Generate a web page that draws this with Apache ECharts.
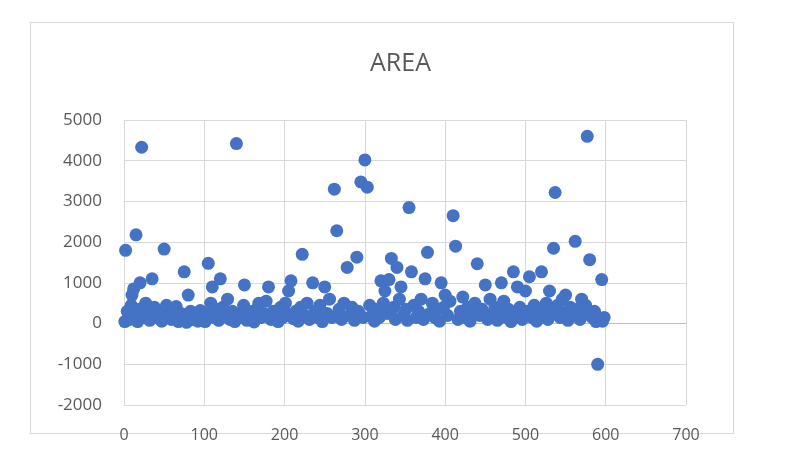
<!DOCTYPE html>
<html><head><meta charset="utf-8">
<script src="https://cdn.jsdelivr.net/npm/echarts@6/dist/echarts.min.js"></script>
<style>html,body{margin:0;padding:0;background:#fff}#c{width:801px;height:449px}
#b{position:absolute;left:30px;top:22px;width:704px;height:412px;border:1px solid #d9d9d9;box-sizing:border-box}</style>
</head><body><div id="b"></div><div id="c"></div>
<script>
const title = "AREA";
const xTicks = [0,100,200,300,400,500,600,700];
const yTicks = [-2000,-1000,0,1000,2000,3000,4000,5000];
const highPoints = [[2,1800],[10,700],[12,850],[15,2180],[20,1000],[22,4330],[35,1100],[50,1830],[75,1270],[80,700],[105,1480],[110,900],[120,1100],[140,4420],[150,950],[180,900],[205,800],[208,1050],[222,1700],[235,1000],[250,900],[262,3300],[265,2280],[278,1380],[290,1630],[295,3480],[300,4020],[303,3350],[320,1050],[325,800],[330,1080],[333,1600],[340,1380],[345,900],[355,2850],[358,1270],[375,1100],[378,1750],[395,1000],[400,700],[410,2650],[413,1900],[440,1470],[450,950],[470,1000],[485,1270],[490,900],[500,800],[505,1150],[520,1270],[530,800],[535,1850],[537,3220],[550,700],[562,2020],[570,600],[577,4600],[580,1570],[590,-1000],[595,1080],[598,150]];
const lowPoints = [[1,50],[4,300],[7,100],[9,450],[13,200],[17,50],[19,350],[24,150],[27,500],[30,250],[32,80],[38,400],[41,150],[44,300],[47,60],[53,450],[56,200],[59,100],[62,350],[65,420],[68,50],[71,250],[74,150],[78,30],[83,300],[86,100],[89,200],[92,60],[95,320],[98,150],[101,50],[104,250],[108,500],[112,150],[115,350],[118,80],[123,400],[126,200],[129,600],[132,100],[135,300],[138,50],[143,250],[146,150],[149,450],[153,80],[156,300],[159,200],[162,40],[165,350],[168,500],[171,150],[174,250],[177,550],[183,100],[186,300],[189,200],[192,50],[195,400],[198,150],[201,500],[203,250],[211,120],[214,300],[217,60],[220,400],[225,200],[228,500],[231,100],[238,300],[241,150],[244,450],[247,50],[253,250],[256,600],[259,150],[268,350],[271,100],[274,500],[281,200],[284,400],[287,80],[292,300],[298,150],[306,450],[309,200],[312,60],[315,350],[318,150],[323,500],[328,250],[336,400],[338,100],[343,600],[348,200],[351,350],[353,80],[361,450],[364,150],[367,300],[370,600],[373,100],[381,250],[384,500],[387,150],[390,350],[393,60],[398,400],[403,200],[406,550],[416,100],[419,300],[422,650],[425,150],[428,400],[431,60],[434,250],[437,500],[443,200],[446,350],[453,100],[456,600],[459,250],[462,400],[465,80],[468,300],[473,550],[476,150],[479,350],[482,50],[488,200],[493,400],[496,100],[502,300],[508,150],[511,450],[514,60],[517,350],[523,200],[526,500],[528,100],[533,300],[540,450],[543,150],[546,600],[548,250],[553,80],[556,400],[559,200],[565,350],[568,100],[573,250],[575,450],[583,150],[586,300],[588,50],[592,120],[596,60]];
const chart = echarts.init(document.getElementById('c'));
const ff = 'Open Sans, Noto Sans, sans-serif';
chart.setOption({
  animation:false,
  title:{text:title,left:'center',top:46,textStyle:{fontSize:25,fontWeight:'normal',color:'#595959',fontFamily:ff}},
  grid:{left:124,right:115,top:120,bottom:44},
  xAxis:{type:'value',min:xTicks[0],max:xTicks[xTicks.length-1],interval:100,
    axisLine:{show:true,onZero:true,lineStyle:{color:'#bfbfbf'}},axisTick:{show:false},
    axisLabel:{color:'#595959',fontSize:16,margin:22,fontFamily:ff},
    splitLine:{lineStyle:{color:'#d9d9d9'}}},
  yAxis:{type:'value',min:yTicks[0],max:yTicks[yTicks.length-1],interval:1000,
    axisLine:{show:true,lineStyle:{color:'rgba(0,0,0,0)'}},axisTick:{show:false},
    axisLabel:{color:'#595959',fontSize:17,margin:22,fontFamily:ff,formatter:v=>String(v)},
    splitLine:{lineStyle:{color:'#d9d9d9'}}},
  series:[{type:'scatter',symbolSize:13,itemStyle:{color:'#4472C4',opacity:1},
    data:lowPoints.concat(highPoints)}]
});
</script></body></html>
